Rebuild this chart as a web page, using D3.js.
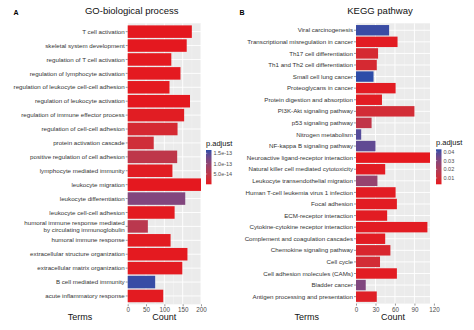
<!DOCTYPE html>
<html>
<head>
<meta charset="utf-8">
<script src="https://cdn.jsdelivr.net/npm/d3@7"></script>
<style>
    body { margin: 0; background: #fff; }
    text { font-family: Arial, "Liberation Sans", sans-serif; }
</style>
</head>
<body>
<div id="chart"></div>
<script>

// GO panel (top to bottom)
var go_terms = ["T cell activation", "skeletal system development", "regulation of T cell activation",
    "regulation of lymphocyte activation", "regulation of leukocyte cell-cell adhesion",
    "regulation of leukocyte activation", "regulation of immune effector process",
    "regulation of cell-cell adhesion", "protein activation cascade", "positive regulation of cell adhesion",
    "lymphocyte mediated immunity", "leukocyte migration", "leukocyte differentiation",
    "leukocyte cell-cell adhesion", "humoral immune response mediated|by circulating immunoglobulin",
    "humoral immune response", "extracellular structure organization", "extracellular matrix organization",
    "B cell mediated immunity", "acute inflammatory response"];
var go_count = [175, 161, 119, 144, 114, 170, 154, 136, 71, 135, 122, 200, 157, 128, 55, 117, 163, 149, 75, 97];
var go_padj = [2e-15, 2e-15, 3e-15, 3e-15, 3e-15, 2e-15, 6e-15, 2.2e-14, 3e-14, 5e-14, 6e-15, 2e-15, 1.15e-13,
    4e-15, 5.5e-14, 5e-15, 3e-15, 4e-15, 1.62e-13, 4e-15];
var go_ticks = [0, 50, 100, 150, 200];
var go_legend = [5e-14, 1e-13, 1.5e-13];

// KEGG panel (top to bottom)
var kegg_terms = ["Viral carcinogenesis", "Transcriptional misregulation in cancer", "Th17 cell differentiation",
    "Th1 and Th2 cell differentiation", "Small cell lung cancer", "Proteoglycans in cancer",
    "Protein digestion and absorption", "PI3K-Akt signaling pathway", "p53 signaling pathway",
    "Nitrogen metabolism", "NF-kappa B signaling pathway", "Neuroactive ligand-receptor interaction",
    "Natural killer cell mediated cytotoxicity", "Leukocyte transendothelial migration",
    "Human T-cell leukemia virus 1 infection", "Focal adhesion", "ECM-receptor interaction",
    "Cytokine-cytokine receptor interaction", "Complement and coagulation cascades",
    "Chemokine signaling pathway", "Cell cycle", "Cell adhesion molecules (CAMs)", "Bladder cancer",
    "Antigen processing and presentation"];
var kegg_count = [51, 64, 34, 32, 27, 61, 40, 90, 24, 8, 30, 114, 45, 33, 61, 63, 48, 110, 45, 53, 37, 63, 15, 32];
var kegg_padj = [0.042, 0.004, 0.008, 0.008, 0.043, 0.004, 0.004, 0.009, 0.014, 0.039, 0.037, 0.003, 0.004,
    0.026, 0.004, 0.004, 0.004, 0.004, 0.004, 0.007, 0.009, 0.004, 0.031, 0.005];
var kegg_ticks = [0, 30, 60, 90, 120];
var kegg_legend = [0.01, 0.02, 0.03, 0.04];

const W = 474, H = 330;

const svg = d3.select("#chart")
    .append("svg")
    .attr("width", W)
    .attr("height", H);

var low_col = "#e6161d", high_col = "#2c4ca8";

function draw_panel(opt) {

    var rows = opt.terms.map(function (t, i) {
        return {term: t, count: opt.count[i], padj: opt.padj[i]};
    });

    var g = svg.append("g");

    var xScale = d3.scaleLinear()
        .domain([0, opt.xmax])
        .range([opt.x0, opt.x1]);

    var yScale = d3.scalePoint()
        .domain(opt.terms)
        .range([opt.y0, opt.y1])
        .padding(0.6);

    var bh = yScale.step() * 0.9;

    var color = d3.scaleLinear()
        .domain(opt.pdomain)
        .range([low_col, high_col])
        .interpolate(d3.interpolateLab);

    // panel background + grid
    g.append("rect")
        .attr("x", opt.x0).attr("y", opt.y0)
        .attr("width", opt.x1 - opt.x0).attr("height", opt.y1 - opt.y0)
        .style("fill", "#ebebeb");

    var minor = [];
    for (var k = 0; k < opt.ticks.length - 1; k++) minor.push((opt.ticks[k] + opt.ticks[k + 1]) / 2);

    g.selectAll("line.minor")
        .data(minor.filter(function (d) { return xScale(d) <= opt.x1; }))
        .enter().append("line")
        .attr("x1", function (d) { return xScale(d); })
        .attr("x2", function (d) { return xScale(d); })
        .attr("y1", opt.y0).attr("y2", opt.y1)
        .style("stroke", "#f5f5f5").style("stroke-width", 0.5);

    g.selectAll("line.major")
        .data(opt.ticks.filter(function (d) { return xScale(d) <= opt.x1; }))
        .enter().append("line")
        .attr("x1", function (d) { return xScale(d); })
        .attr("x2", function (d) { return xScale(d); })
        .attr("y1", opt.y0).attr("y2", opt.y1)
        .style("stroke", "#fff").style("stroke-width", 0.9);

    g.selectAll("line.hgrid")
        .data(opt.terms)
        .enter().append("line")
        .attr("x1", opt.x0).attr("x2", opt.x1)
        .attr("y1", function (d) { return yScale(d); })
        .attr("y2", function (d) { return yScale(d); })
        .style("stroke", "#fff").style("stroke-width", 0.9);

    g.selectAll("rect.bar")
        .data(rows)
        .enter().append("rect")
        .attr("class", "bar")
        .attr("x", xScale(0))
        .attr("y", function (d) { return yScale(d.term) - bh / 2; })
        .attr("width", function (d) { return xScale(d.count) - xScale(0); })
        .attr("height", bh)
        .style("fill", function (d) { return color(d.padj); });

    // y labels
    var lab = g.selectAll("text.ylab")
        .data(opt.terms)
        .enter().append("text")
        .attr("class", "ylab")
        .attr("text-anchor", "end")
        .style("font-size", "6.2px")
        .style("fill", "#333")
        .attr("transform", function (d) { return "translate(" + (opt.x0 - 3) + "," + yScale(d) + ")"; });

    lab.each(function (d) {
        var parts = d.split("|");
        var t = d3.select(this);
        parts.forEach(function (p, i) {
            t.append("tspan")
                .attr("x", 0)
                .attr("y", (i - (parts.length - 1) / 2) * 7.2)
                .attr("dy", "0.35em")
                .text(p);
        });
    });

    g.selectAll("line.ytick")
        .data(opt.terms)
        .enter().append("line")
        .attr("x1", opt.x0 - 2).attr("x2", opt.x0)
        .attr("y1", function (d) { return yScale(d); })
        .attr("y2", function (d) { return yScale(d); })
        .style("stroke", "#333").style("stroke-width", 0.5);

    // x axis
    var xa = g.append("g")
        .attr("transform", "translate(0," + opt.y1 + ")")
        .call(d3.axisBottom(xScale).tickValues(opt.ticks).tickSize(2).tickPadding(1.5));
    xa.select(".domain").remove();
    xa.selectAll("line").style("stroke", "#333").style("stroke-width", 0.5);
    xa.selectAll("text").style("font-size", "6.3px").style("fill", "#4d4d4d")
        .style("font-family", "Arial, 'Liberation Sans', sans-serif");

    // titles
    g.append("text")
        .attr("x", opt.titleX).attr("y", 14)
        .attr("text-anchor", "middle")
        .style("font-size", "9.5px").style("fill", "#111")
        .text(opt.title);

    g.append("text")
        .attr("x", opt.letterX).attr("y", 14.5)
        .attr("text-anchor", "middle")
        .style("font-size", "7px").style("font-weight", "bold")
        .text(opt.letter);

    g.append("text")
        .attr("x", opt.termsX).attr("y", 320)
        .attr("text-anchor", "middle")
        .style("font-size", "9px").style("fill", "#111")
        .text("Terms");

    g.append("text")
        .attr("x", (opt.x0 + opt.x1) / 2).attr("y", 320)
        .attr("text-anchor", "middle")
        .style("font-size", "9px").style("fill", "#111")
        .text("Count");

    // colour bar legend
    var lg = g.append("g");
    var cb = d3.scaleLinear()
        .domain(opt.pdomain)
        .range([opt.cbBottom, opt.cbTop]);

    var gradId = "grad-" + opt.letter;
    var grad = svg.append("defs").append("linearGradient")
        .attr("id", gradId)
        .attr("x1", 0).attr("x2", 0).attr("y1", 1).attr("y2", 0);
    d3.range(0, 1.0001, 0.1).forEach(function (t) {
        grad.append("stop")
            .attr("offset", t)
            .attr("stop-color", color(opt.pdomain[0] + t * (opt.pdomain[1] - opt.pdomain[0])));
    });

    lg.append("text")
        .attr("x", opt.cbX).attr("y", opt.cbTop - 4)
        .style("font-size", "7.5px").style("fill", "#111")
        .text("p.adjust");

    lg.append("rect")
        .attr("x", opt.cbX).attr("y", opt.cbTop)
        .attr("width", 5.5).attr("height", opt.cbBottom - opt.cbTop)
        .style("fill", "url(#" + gradId + ")");

    lg.selectAll("line.cbt")
        .data(opt.legend)
        .enter().append("line")
        .attr("x1", opt.cbX).attr("x2", opt.cbX + 1.2)
        .attr("y1", function (d) { return cb(d); })
        .attr("y2", function (d) { return cb(d); })
        .style("stroke", "#fff").style("stroke-width", 0.5);

    lg.selectAll("text.cbl")
        .data(opt.legend)
        .enter().append("text")
        .attr("x", opt.cbX + 7.5)
        .attr("y", function (d) { return cb(d); })
        .attr("dy", "0.35em")
        .style("font-size", "5.5px").style("fill", "#4d4d4d")
        .text(function (d) { return opt.fmt(d); });
}

draw_panel({
    terms: go_terms, count: go_count, padj: go_padj, ticks: go_ticks, legend: go_legend,
    xmax: 200, x0: 127.7, x1: 201, y0: 23.3, y1: 304.3,
    pdomain: [0, 1.66e-13],
    title: "GO-biological process", titleX: 131.7, letter: "A", letterX: 16, termsX: 80,
    cbX: 206, cbTop: 150, cbBottom: 184.3,
    fmt: function (d) { return d.toExponential(1); }
});

draw_panel({
    terms: kegg_terms, count: kegg_count, padj: kegg_padj, ticks: kegg_ticks, legend: kegg_legend,
    xmax: 114, x0: 356, x1: 430, y0: 23.3, y1: 303.6,
    pdomain: [0.0027, 0.0431],
    title: "KEGG pathway", titleX: 380, letter: "B", letterX: 242, termsX: 306.7,
    cbX: 436, cbTop: 149.3, cbBottom: 184.3,
    fmt: function (d) { return d3.format(".2f")(d); }
});

</script>
</body>
</html>
